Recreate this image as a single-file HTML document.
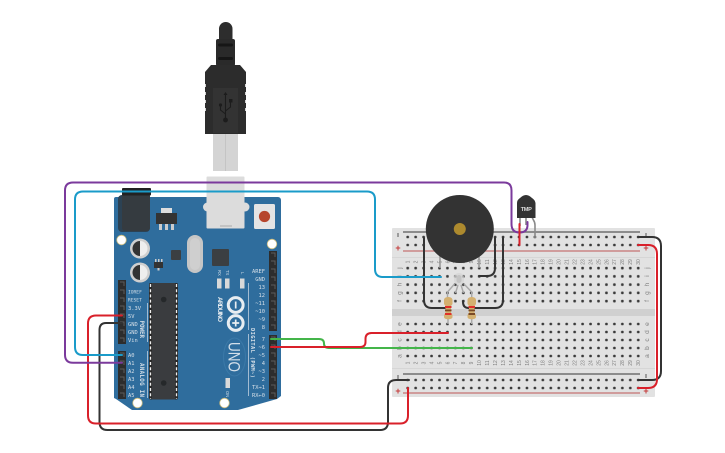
<!DOCTYPE html>
<html><head><meta charset="utf-8"><style>
html,body{margin:0;padding:0;background:#fff;width:725px;height:453px;overflow:hidden}
svg{display:block}
text{font-family:"Liberation Sans",sans-serif}
.m text{font-family:"DejaVu Sans Mono","Liberation Mono",monospace;fill:#d5dfe8;font-size:5.4px;text-anchor:end}
.l text{font-family:"DejaVu Sans Mono","Liberation Mono",monospace;fill:#d5dfe8;font-size:5.4px}
.n text{font-size:5px;fill:#808080;text-anchor:middle}
.w{fill:none;stroke-width:2;stroke-linecap:round;stroke-linejoin:round}
</style></head><body>
<svg width="725" height="453" viewBox="0 0 725 453" xmlns="http://www.w3.org/2000/svg">
<defs>
<pattern id="d1" patternUnits="userSpaceOnUse" x="403.7" y="233" width="7.95" height="8"><rect x="2.7" y="2.7" width="2.6" height="2.6" rx=".8" fill="#3a3a3a"/></pattern>
<pattern id="d2" patternUnits="userSpaceOnUse" x="403.7" y="264" width="7.95" height="8.25"><rect x="2.7" y="2.8" width="2.6" height="2.6" rx=".8" fill="#3a3a3a"/></pattern>
<pattern id="d3" patternUnits="userSpaceOnUse" x="403.7" y="320" width="7.95" height="8"><rect x="2.7" y="2.7" width="2.6" height="2.6" rx=".8" fill="#3a3a3a"/></pattern>
<pattern id="d4" patternUnits="userSpaceOnUse" x="403.7" y="376" width="7.95" height="8"><rect x="2.7" y="2.7" width="2.6" height="2.6" rx=".8" fill="#3a3a3a"/></pattern>
<pattern id="hdr" patternUnits="userSpaceOnUse" x="0" y="0" width="8" height="8"><rect width="8" height="8" fill="#2d2d2d"/><path d="M2 2h4v4" fill="none" stroke="#5c5c5c" stroke-width="1"/></pattern>
</defs>

<!-- breadboard -->
<rect x="392" y="228" width="263" height="169" rx="1" fill="#e2e2e2"/>
<rect x="392" y="257" width="263" height="1" fill="#d6d6d6"/>
<rect x="392" y="368" width="263" height="1" fill="#d6d6d6"/>
<rect x="392" y="309" width="263" height="7" fill="#d0d0d0"/>
<rect x="403" y="231.2" width="237" height="1.6" fill="#777"/>
<rect x="403" y="250.2" width="237" height="1.6" fill="#cc8a8a"/>
<rect x="403" y="373.2" width="237" height="1.6" fill="#777"/>
<rect x="403" y="392.2" width="237" height="1.6" fill="#cc8a8a"/>
<rect x="403.7" y="233" width="238.5" height="16" fill="url(#d1)"/>
<rect x="403.7" y="264" width="238.5" height="41" fill="url(#d2)"/>
<rect x="403.7" y="320" width="238.5" height="40" fill="url(#d3)"/>
<rect x="403.7" y="376" width="238.5" height="16" fill="url(#d4)"/>
<g fill="#555"><rect x="397.5" y="233" width="1" height="4"/><rect x="645.5" y="233" width="1" height="4"/><rect x="397.5" y="375" width="1" height="4"/><rect x="645.5" y="374" width="1" height="4"/></g>
<g fill="#c43a3a" font-size="9" text-anchor="middle" font-weight="bold"><text x="398" y="251">+</text><text x="646" y="251">+</text><text x="398" y="394">+</text><text x="646" y="394">+</text></g>
<g class="n">
<g>
<text transform="translate(409.5,262) rotate(-90)">1</text><text transform="translate(417.5,262) rotate(-90)">2</text><text transform="translate(425.4,262) rotate(-90)">3</text><text transform="translate(433.4,262) rotate(-90)">4</text><text transform="translate(441.3,262) rotate(-90)">5</text><text transform="translate(449.3,262) rotate(-90)">6</text><text transform="translate(457.2,262) rotate(-90)">7</text><text transform="translate(465.2,262) rotate(-90)">8</text><text transform="translate(473.1,262) rotate(-90)">9</text><text transform="translate(481.1,262) rotate(-90)">10</text><text transform="translate(489,262) rotate(-90)">11</text><text transform="translate(497,262) rotate(-90)">12</text><text transform="translate(504.9,262) rotate(-90)">13</text><text transform="translate(512.9,262) rotate(-90)">14</text><text transform="translate(520.8,262) rotate(-90)">15</text><text transform="translate(528.8,262) rotate(-90)">16</text><text transform="translate(536.7,262) rotate(-90)">17</text><text transform="translate(544.7,262) rotate(-90)">18</text><text transform="translate(552.6,262) rotate(-90)">19</text><text transform="translate(560.6,262) rotate(-90)">20</text><text transform="translate(568.5,262) rotate(-90)">21</text><text transform="translate(576.5,262) rotate(-90)">22</text><text transform="translate(584.4,262) rotate(-90)">23</text><text transform="translate(592.4,262) rotate(-90)">24</text><text transform="translate(600.3,262) rotate(-90)">25</text><text transform="translate(608.3,262) rotate(-90)">26</text><text transform="translate(616.2,262) rotate(-90)">27</text><text transform="translate(624.2,262) rotate(-90)">28</text><text transform="translate(632.1,262) rotate(-90)">29</text><text transform="translate(640.1,262) rotate(-90)">30</text>
</g>
<g>
<text transform="translate(409.5,363) rotate(-90)">1</text><text transform="translate(417.5,363) rotate(-90)">2</text><text transform="translate(425.4,363) rotate(-90)">3</text><text transform="translate(433.4,363) rotate(-90)">4</text><text transform="translate(441.3,363) rotate(-90)">5</text><text transform="translate(449.3,363) rotate(-90)">6</text><text transform="translate(457.2,363) rotate(-90)">7</text><text transform="translate(465.2,363) rotate(-90)">8</text><text transform="translate(473.1,363) rotate(-90)">9</text><text transform="translate(481.1,363) rotate(-90)">10</text><text transform="translate(489,363) rotate(-90)">11</text><text transform="translate(497,363) rotate(-90)">12</text><text transform="translate(504.9,363) rotate(-90)">13</text><text transform="translate(512.9,363) rotate(-90)">14</text><text transform="translate(520.8,363) rotate(-90)">15</text><text transform="translate(528.8,363) rotate(-90)">16</text><text transform="translate(536.7,363) rotate(-90)">17</text><text transform="translate(544.7,363) rotate(-90)">18</text><text transform="translate(552.6,363) rotate(-90)">19</text><text transform="translate(560.6,363) rotate(-90)">20</text><text transform="translate(568.5,363) rotate(-90)">21</text><text transform="translate(576.5,363) rotate(-90)">22</text><text transform="translate(584.4,363) rotate(-90)">23</text><text transform="translate(592.4,363) rotate(-90)">24</text><text transform="translate(600.3,363) rotate(-90)">25</text><text transform="translate(608.3,363) rotate(-90)">26</text><text transform="translate(616.2,363) rotate(-90)">27</text><text transform="translate(624.2,363) rotate(-90)">28</text><text transform="translate(632.1,363) rotate(-90)">29</text><text transform="translate(640.1,363) rotate(-90)">30</text>
</g>
</g>
<g fill="#808080" font-size="6.5" text-anchor="middle">
<text transform="translate(401.500,268) rotate(-90)">j</text><text transform="translate(401.500,276) rotate(-90)">i</text><text transform="translate(401.500,284.5) rotate(-90)">h</text><text transform="translate(401.500,293) rotate(-90)">g</text><text transform="translate(401.500,301) rotate(-90)">f</text>
<text transform="translate(401.500,324) rotate(-90)">e</text><text transform="translate(401.500,332) rotate(-90)">d</text><text transform="translate(401.500,340) rotate(-90)">c</text><text transform="translate(401.500,348) rotate(-90)">b</text><text transform="translate(401.500,356) rotate(-90)">a</text>
<text transform="translate(649,268) rotate(-90)">j</text><text transform="translate(649,276) rotate(-90)">i</text><text transform="translate(649,284.5) rotate(-90)">h</text><text transform="translate(649,293) rotate(-90)">g</text><text transform="translate(649,301) rotate(-90)">f</text>
<text transform="translate(649,324) rotate(-90)">e</text><text transform="translate(649,332) rotate(-90)">d</text><text transform="translate(649,340) rotate(-90)">c</text><text transform="translate(649,348) rotate(-90)">b</text><text transform="translate(649,356) rotate(-90)">a</text>
</g>

<!-- arduino board -->
<path d="M116 197H278a3 3 0 0 1 3 3V396l-4 3-39 11H132l-16-11-2-1V199a2 2 0 0 1 2-2z" fill="#2f6d9d"/>
<circle cx="121.5" cy="240" r="4.8" fill="#fff" stroke="#c9b97a" stroke-width=".8"/>
<circle cx="272" cy="244" r="4.8" fill="#fff" stroke="#c9b97a" stroke-width=".8"/>
<circle cx="137.5" cy="403" r="4.8" fill="#fff" stroke="#c9b97a" stroke-width=".8"/>
<circle cx="224.5" cy="403" r="4.8" fill="#fff" stroke="#c9b97a" stroke-width=".8"/>

<!-- jack -->
<rect x="118" y="195" width="32" height="37" rx="4" fill="#2c4254"/>
<rect x="122" y="193" width="28" height="38" rx="3" fill="#353b40"/>
<rect x="122" y="188" width="29" height="7.500" rx="1" fill="#222"/>
<!-- regulator -->
<rect x="161" y="208" width="11" height="5" fill="#ddd"/>
<rect x="156" y="213" width="21" height="11" fill="#333"/>
<g fill="#ccc"><rect x="159" y="224" width="3" height="6"/><rect x="165" y="224" width="3" height="6"/><rect x="171" y="224" width="3" height="6"/></g>
<!-- usb socket -->
<circle cx="207.500" cy="207" r="4.5" fill="#dcdcdc"/><circle cx="245" cy="207" r="4.5" fill="#dcdcdc"/>
<rect x="206.500" y="176.500" width="38" height="52" rx="1" fill="#dcdcdc"/>
<rect x="220" y="225.500" width="12" height="1" fill="#aaa"/>
<!-- reset -->
<rect x="254" y="204" width="21" height="25" rx="1.500" fill="#e4e4e4"/>
<circle cx="264.500" cy="216.500" r="5.600" fill="#b6452c"/>
<!-- caps -->
<g>
<circle cx="140" cy="248.500" r="10" fill="#cfcfcf"/><path d="M140 241a7.500 7.500 0 0 0 0 15z" fill="#333"/><path d="M140 241a7.500 7.500 0 0 1 0 15z" fill="#eee"/>
<circle cx="140" cy="272.500" r="10" fill="#cfcfcf"/><path d="M140 265a7.500 7.500 0 0 0 0 15z" fill="#333"/><path d="M140 265a7.500 7.500 0 0 1 0 15z" fill="#eee"/>
</g>
<!-- small parts -->
<rect x="171" y="250" width="10" height="10" rx="1" fill="#3b3f42"/>
<rect x="154" y="262" width="9" height="6" fill="#333"/><g fill="#ccc"><rect x="155" y="259" width="1.500" height="3"/><rect x="158" y="259" width="1.500" height="3"/><rect x="161" y="259" width="1.500" height="3"/><rect x="157.500" y="268" width="2" height="2.500"/></g>
<rect x="187" y="235" width="16" height="38" rx="8" fill="#c6c6c6"/>
<rect x="190" y="238" width="10" height="32" rx="5" fill="#cfcfcf"/>
<rect x="212" y="249" width="17" height="17" rx="1" fill="#3b3f42"/>
<!-- big chip -->
<rect x="149" y="283" width="29" height="116.500" rx="1.500" fill="#2a2a2a"/>
<rect x="152" y="283" width="23" height="116.500" fill="#3a3c3f"/>
<path d="M150.500 284V399M176.500 284V399" stroke="#eee" stroke-width="1.300" stroke-dasharray="3 2.200" fill="none"/>
<circle cx="163.700" cy="299.500" r="2.800" fill="#25282a"/><circle cx="163.700" cy="383" r="2.800" fill="#25282a"/>
<!-- headers -->
<g transform="translate(118,280)"><rect width="8" height="64" fill="url(#hdr)"/></g>
<g transform="translate(118,351)"><rect width="8" height="48" fill="url(#hdr)"/></g>
<g transform="translate(269,251)"><rect width="8" height="80" fill="url(#hdr)"/></g>
<g transform="translate(269,335)"><rect width="8" height="64" fill="url(#hdr)"/></g>
<!-- LEDs -->
<g fill="#d9d9d9"><rect x="217" y="278.500" width="4.500" height="10"/><rect x="225" y="278.500" width="4.500" height="10"/><rect x="240" y="278.500" width="4.500" height="10"/><rect x="225.500" y="378" width="4.500" height="10"/></g>
<g fill="#d5dfe8" font-size="4.200">
<text transform="translate(218,270) rotate(90)">RX</text><text transform="translate(226,270) rotate(90)">TX</text><text transform="translate(241,272) rotate(90)">L</text><text transform="translate(226,391) rotate(90)">ON</text>
</g>
<!-- left labels -->
<g class="l">
<text x="128" y="293.500" font-size="4.600" style="font-size:4.600px">IOREF</text>
<text x="128" y="301.500" style="font-size:4.600px">RESET</text><text x="128" y="310">3.3V</text><text x="128" y="318">5V</text><text x="128" y="326">GND</text><text x="128" y="334">GND</text><text x="128" y="342">Vin</text>
<text x="128" y="357">A0</text><text x="128" y="365">A1</text><text x="128" y="373">A2</text><text x="128" y="381">A3</text><text x="128" y="389">A4</text><text x="128" y="397">A5</text>
</g>
<g class="l">
<text transform="translate(140,320.500) rotate(90)" style="font-size:5.800px;font-weight:bold">POWER</text>
<text transform="translate(140,363) rotate(90)" style="font-size:5.800px;font-weight:bold" textLength="34">ANALOG IN</text>
</g>
<path d="M147.500 303V342M147.500 351V398" stroke="#d5dfe8" stroke-width=".7"/>
<!-- right labels -->
<g class="m"><text x="265" y="273">AREF</text><text x="265" y="281">GND</text><text x="265" y="289">13</text><text x="265" y="297">12</text><text x="265" y="305">~11</text><text x="265" y="313">~10</text><text x="265" y="321">~9</text><text x="265" y="329">8</text><text x="265" y="341">7</text><text x="265" y="349">~6</text><text x="265" y="357">~5</text><text x="265" y="365">4</text><text x="265" y="373">~3</text><text x="265" y="381">2</text><text x="265" y="389">TX→1</text><text x="265" y="397">RX←0</text></g>
<path d="M248.500 283V330M248.500 334V396" stroke="#d5dfe8" stroke-width=".7"/>
<g class="l"><text transform="translate(251,328) rotate(90)" style="font-size:5.400px;font-weight:bold" textLength="50">DIGITAL (PWM~)</text></g>
<!-- logo -->
<g fill="none" stroke="#e8edf1" stroke-width="3"><circle cx="235.700" cy="305" r="7.400"/><circle cx="235.700" cy="323" r="7.400"/></g>
<path d="M235.700 301.500v7M232.200 323h7M235.700 319.500v7" stroke="#e8edf1" stroke-width="1.700" fill="none"/>
<text transform="translate(218,297) rotate(90)" fill="#e8edf1" font-size="6.300" font-weight="bold" textLength="25">ARDUINO</text>
<ellipse cx="234.500" cy="357" rx="11" ry="19" fill="none" stroke="#3b79a8" stroke-width="1"/>
<text transform="translate(228.300,342) rotate(90)" fill="#d3dfe9" font-size="16.500" textLength="30" lengthAdjust="spacingAndGlyphs">UNO</text>

<!-- USB plug -->
<rect x="213" y="134" width="25" height="37" fill="#d4d4d4"/>
<rect x="225" y="134" width="1" height="37" fill="#c4c4c4"/>
<rect x="219" y="22" width="13.500" height="24" rx="6.700" fill="#2d2d2d"/>
<rect x="216" y="39" width="19" height="27" rx="2" fill="#2a2a2a"/>
<rect x="218" y="43.500" width="15" height="3" rx="1.500" fill="#161616"/><rect x="218" y="57" width="15" height="3" rx="1.500" fill="#161616"/>
<path d="M211 65H240L246 72V134H205V72z" fill="#2c2c2c"/>
<rect x="213" y="88" width="25" height="45" fill="#333"/>
<g stroke="#1c1c1c" fill="none" stroke-width="1.100"><path d="M225.500 94V120M220.500 106V110L225.500 114M230.500 102V107L225.500 111"/></g>
<circle cx="225.500" cy="120" r="2.400" fill="#1c1c1c"/><rect x="229" y="99" width="3.500" height="3.500" fill="#1c1c1c"/><circle cx="220.500" cy="105" r="1.600" fill="#1c1c1c"/><path d="M223.500 95l2-3 2 3z" fill="#1c1c1c"/>
<g fill="#fff" opacity=".8"><rect x="205" y="84" width="1" height="3"/><rect x="205" y="92" width="1" height="3"/><rect x="205" y="100" width="1" height="3"/><rect x="205" y="108" width="1" height="3"/><rect x="245" y="84" width="1" height="3"/><rect x="245" y="92" width="1" height="3"/><rect x="245" y="100" width="1" height="3"/><rect x="245" y="108" width="1" height="3"/></g>

<!-- buzzer pins behind -->
<g stroke="#999" stroke-width="1.600" fill="none"><path d="M440 255V268M479 255V268"/></g>
<circle cx="459.800" cy="229" r="34" fill="#333"/>
<circle cx="459.800" cy="229" r="6" fill="#ad8a2e"/>

<!-- TMP -->
<g stroke="#8a8a8a" stroke-width="1.600" fill="none"><path d="M520 216V226M526 216V225M532 216c0 4 3 4 3 9V238"/></g>
<path d="M517 218V203q0-3 3-5q3-3 6-3t6 3q3 2 3.500 5V218z" fill="#333"/>
<text x="526.300" y="211" text-anchor="middle" fill="#ddd" font-size="5.600" font-weight="bold" font-family="Liberation Mono" textLength="11">TMP</text>

<!-- wires -->
<g class="w">
<path stroke="#333" d="M424 238V300q0 8 8 8H446"/>
<path stroke="#333" d="M463 301v1q0 6 6 6H495q8 0 8-8V238"/>
<path stroke="#333" d="M495 238V268q0 8-8 8H479"/>
<path stroke="#333" d="M638 237H652q9 0 9 9V371q0 9-9 9H638"/>
<path stroke="#d9202a" d="M638 245H648q9 0 9 9V379q0 9-9 9H638"/>
<path stroke="#333" d="M122 323H106q-6.500 0-6.500 7V422q0 8 8 8H380q8 0 8-8V388q0-8 8-8H409"/>
<path stroke="#d9202a" d="M122 315.500H96q-8 0-8 8V415.500q0 8 8 8H400q8 0 8-8V388"/>
<path stroke="#1a9bc9" d="M122 355H83q-8 0-8-8V199.500q0-8 8-8H367q8 0 8 8V269q0 8 8 8H441"/>
<path stroke="#7b3a9c" d="M122 362.700H73q-8 0-8-8V190.500q0-8 8-8H504q7.500 0 7.500 8V224q0 8.500 8 8.500t8-7.500V222"/>
<path stroke="#d9202a" d="M519.500 224V245"/>
<path stroke="#44b54a" d="M271 339H319q5 0 5 4.500t5 4.500H472"/>
<path stroke="#d9202a" d="M271 347H360q5.500 0 5.500-5V339q0-6 6-6H448"/>
</g>

<!-- LED + resistors on top of jumpers -->
<g stroke="#a8a8a8" stroke-width="1.400" fill="none">
<path d="M454.500 284L447.500 292V298"/><path d="M458 285L455.500 293"/><path d="M461 285L463.500 293"/><path d="M464 284L471.700 292V298"/><path d="M448 324V316M471.700 324V316"/>
</g>
<rect x="454" y="273" width="10" height="12" rx="4.500" fill="#d4d4d4" opacity=".75"/>
<rect x="456.500" y="275" width="5" height="8" rx="2.500" fill="#bfbfbf" opacity=".8"/>
<g>
<path d="M444 300c0-4 8.500-4 8.500 0v4l-1.500 2v7l1.500 2v2c0 3-8.500 3-8.500 0v-2l1.500-2v-7l-1.500-2z" fill="#d4b070"/>
<rect x="445" y="306" width="6.500" height="2" fill="#e0302a"/><rect x="445" y="309.500" width="6.500" height="1.800" fill="#7a4a26"/><rect x="445" y="313" width="6.500" height="2" fill="#e0302a"/>
</g>
<g>
<path d="M467.500 300c0-4 8.500-4 8.500 0v4l-1.500 2v7l1.500 2v2c0 3-8.500 3-8.500 0v-2l1.500-2v-7l-1.500-2z" fill="#d4b070"/>
<rect x="468.500" y="306" width="6.500" height="2" fill="#e0302a"/><rect x="468.500" y="309.500" width="6.500" height="1.800" fill="#7a4a26"/><rect x="468.500" y="313" width="6.500" height="2" fill="#7a4a26"/>
</g>
</svg>
</body></html>
